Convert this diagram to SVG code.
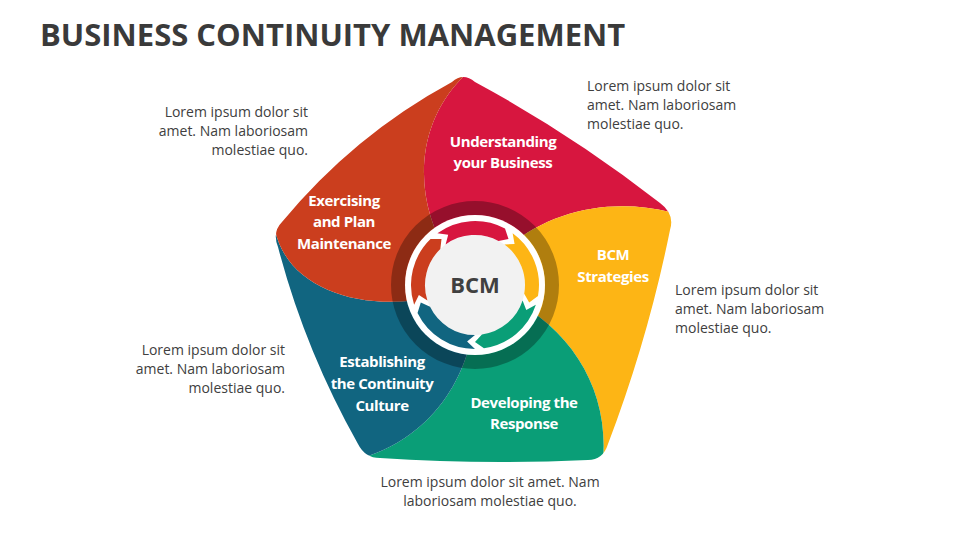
<svg xmlns="http://www.w3.org/2000/svg" width="960" height="540" viewBox="0 0 960 540">
<style>
.t{font-family:"Open Sans","Liberation Sans",sans-serif;font-size:14px;fill:#404040}
.w{font-family:"Open Sans","Liberation Sans",sans-serif;font-size:15px;font-weight:bold;fill:#fff;text-anchor:middle;letter-spacing:-0.4px}
</style>
<defs>
<clipPath id="pent"><path d="M452,82 Q463,72 475,82 Q573,135 660,203 Q675,214 670,230 Q648,339 608,444 Q603,460 588,460 Q483,465 380,458 Q365,458 358,444 Q305,350 278,247 Q272,232 282,222 Q354,135 452,82 Z"/></clipPath>
<path id="arr" d="M-37.6,-51.8 A64,64 0 0 1 30,-56.5 L33.5,-46.1 L23.5,-44.1 A50,50 0 0 0 -29.4,-40.5 L-26.8,-50.3 Z"/>
</defs>
<rect width="960" height="540" fill="#fff"/>
<text x="40" y="46" font-family="'Open Sans','Liberation Sans',sans-serif" font-size="31" font-weight="bold" fill="#3a3a3a">BUSINESS CONTINUITY MANAGEMENT</text>
<g id="red"><path clip-path="url(#pent)" d="M475,285 C420,240 400,140 463,77 L463,0 L800,180 L670,212 C600,195 520,215 475,285 Z" fill="#D7163F"/></g>
<g id="yellow"><path clip-path="url(#pent)" d="M475,285 C520,215 600,195 670,212 L800,180 L700,520 L603,460 C610,380 560,310 475,285 Z" fill="#FDB515"/></g>
<g id="green"><path clip-path="url(#pent)" d="M475,285 C560,310 610,380 603,460 L700,520 L340,520 L363,458 C450,430 480,350 475,285 Z" fill="#0A9E77"/></g>
<g id="blue"><path clip-path="url(#pent)" d="M475,285 C480,350 450,430 363,458 L340,520 L200,230 L275,230 C290,300 390,320 475,285 Z" fill="#116580"/></g>
<g id="orange"><path clip-path="url(#pent)" d="M475,285 C390,320 290,300 275,230 L200,230 L463,0 L463,77 C400,140 420,240 475,285 Z" fill="#CB3E1E"/></g>
<g id="labels">
<text class="w" x="503" y="147">Understanding</text><text class="w" x="503" y="168">your Business</text>
<text class="w" x="613" y="260">BCM</text><text class="w" x="613" y="282">Strategies</text>
<text class="w" x="524" y="408">Developing the</text><text class="w" x="524" y="429">Response</text>
<text class="w" x="382" y="367">Establishing</text><text class="w" x="382" y="389">the Continuity</text><text class="w" x="382" y="411">Culture</text>
<text class="w" x="344" y="206">Exercising</text><text class="w" x="344" y="227">and Plan</text><text class="w" x="344" y="249">Maintenance</text>
</g>
<g id="center">
<circle cx="475" cy="285" r="77" fill="none" stroke="#000" stroke-opacity="0.3" stroke-width="14"/>
<circle cx="475" cy="285" r="70" fill="#fff"/>
<circle cx="475" cy="285" r="50" fill="#F2F2F2"/>
<g transform="translate(475,285)">
<use href="#arr" fill="#D7163F"/>
<use href="#arr" fill="#FDB515" transform="rotate(72)"/>
<use href="#arr" fill="#0A9E77" transform="rotate(144)"/>
<use href="#arr" fill="#116580" transform="rotate(216)"/>
<use href="#arr" fill="#CB3E1E" transform="rotate(288)"/>
</g>
<text x="475" y="293" text-anchor="middle" font-family="'Open Sans','Liberation Sans',sans-serif" font-size="22" font-weight="bold" fill="#404040">BCM</text>
</g>
<g id="notes">
<text class="t" x="308" y="117" text-anchor="end">Lorem ipsum dolor sit</text><text class="t" x="308" y="136" text-anchor="end">amet. Nam laboriosam</text><text class="t" x="308" y="155" text-anchor="end">molestiae quo.</text>
<text class="t" x="587" y="91">Lorem ipsum dolor sit</text><text class="t" x="587" y="110">amet. Nam laboriosam</text><text class="t" x="587" y="129">molestiae quo.</text>
<text class="t" x="675" y="295">Lorem ipsum dolor sit</text><text class="t" x="675" y="314">amet. Nam laboriosam</text><text class="t" x="675" y="333">molestiae quo.</text>
<text class="t" x="285" y="355" text-anchor="end">Lorem ipsum dolor sit</text><text class="t" x="285" y="374" text-anchor="end">amet. Nam laboriosam</text><text class="t" x="285" y="393" text-anchor="end">molestiae quo.</text>
<text class="t" x="490" y="487" text-anchor="middle">Lorem ipsum dolor sit amet. Nam</text><text class="t" x="490" y="506" text-anchor="middle">laboriosam molestiae quo.</text>
</g>
</svg>
